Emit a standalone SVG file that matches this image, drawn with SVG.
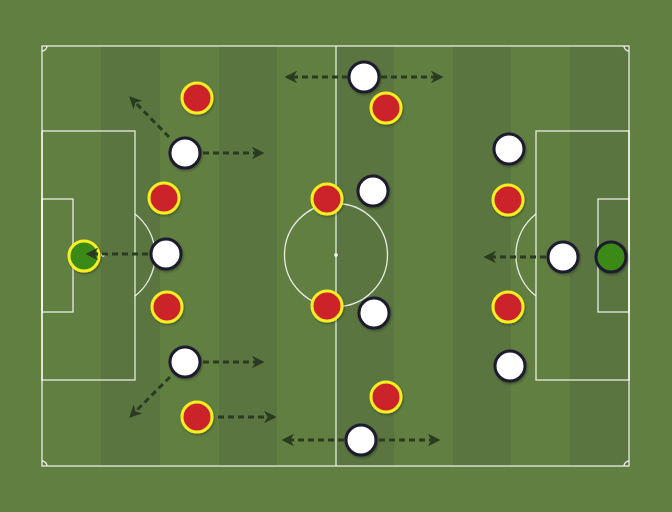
<svg xmlns="http://www.w3.org/2000/svg" width="672" height="512" viewBox="0 0 672 512">
<style>
.ln{fill:none;stroke:#ffffff;stroke-opacity:0.85;stroke-width:1.3}
.st{fill:#5a7540}
.mv{fill:none;stroke:#2a3b1f;stroke-width:3;stroke-dasharray:6 4;marker-end:url(#ah)}
.red{fill:#cc2229;stroke:#f5ef24;stroke-width:3}
.wht{fill:#ffffff;stroke:#1c1c2e;stroke-width:3}
.gkA{fill:#3b8914;stroke:#f5ef24;stroke-width:3}
.gkB{fill:#3b8914;stroke:#1c1c2e;stroke-width:3}
.pl{filter:url(#sh)}
</style>
<defs>
<marker id="ah" viewBox="0 0 10 10" refX="8" refY="5" markerWidth="4.2" markerHeight="4.2" orient="auto" markerUnits="strokeWidth">
<path d="M0,0 L10,5 L0,10 L3,5 z" fill="#2a3b1f"/>
</marker>
<filter id="sh" x="-30%" y="-30%" width="160%" height="160%">
<feDropShadow dx="1" dy="1.5" stdDeviation="1.2" flood-color="#000" flood-opacity="0.3"/>
</filter>
</defs>
<rect x="0" y="0" width="672" height="512" fill="#627f42"/>
<g id="pitch">
<rect class="st" x="101" y="46" width="59" height="420"/>
<rect class="st" x="219" y="46" width="58" height="420"/>
<rect class="st" x="336" y="46" width="58" height="420"/>
<rect class="st" x="453" y="46" width="58" height="420"/>
<rect class="st" x="570" y="46" width="59" height="420"/>
<rect class="ln" x="42" y="46" width="587" height="420" stroke-width="1.8"/>
<line class="ln" x1="336" y1="46" x2="336" y2="466"/>
<circle class="ln" cx="336" cy="255" r="51.5"/>
<circle cx="336" cy="255" r="1.8" fill="#fff"/>
<rect class="ln" x="42" y="131" width="93" height="249"/>
<rect class="ln" x="42" y="199" width="31" height="113"/>
<circle cx="103" cy="255" r="1.8" fill="#fff"/>
<path class="ln" d="M135,213.9 A52,52 0 0 1 135,296.1"/>
<rect class="ln" x="536" y="131" width="93" height="249"/>
<rect class="ln" x="598" y="199" width="31" height="113"/>
<circle cx="568" cy="255" r="1.8" fill="#fff"/>
<path class="ln" d="M536,213.9 A52,52 0 0 0 536,296.1"/>
<path class="ln" d="M42,51 A5,5 0 0 0 47,46"/>
<path class="ln" d="M624,46 A5,5 0 0 0 629,51"/>
<path class="ln" d="M42,461 A5,5 0 0 1 47,466"/>
<path class="ln" d="M624,466 A5,5 0 0 1 629,461"/>
</g>
<g id="red-1" class="pl"><circle class="red" cx="197" cy="98" r="15"/></g>
<g id="red-2" class="pl"><circle class="red" cx="386" cy="108" r="15"/></g>
<g id="red-3" class="pl"><circle class="red" cx="164" cy="198" r="15"/></g>
<g id="red-4" class="pl"><circle class="red" cx="327" cy="199" r="15"/></g>
<g id="red-5" class="pl"><circle class="red" cx="508" cy="200" r="15"/></g>
<g id="red-6" class="pl"><circle class="red" cx="167" cy="307" r="15"/></g>
<g id="red-7" class="pl"><circle class="red" cx="327" cy="306" r="15"/></g>
<g id="red-8" class="pl"><circle class="red" cx="508" cy="307" r="15"/></g>
<g id="red-9" class="pl"><circle class="red" cx="386" cy="397" r="15"/></g>
<g id="red-10" class="pl"><circle class="red" cx="197" cy="417" r="15"/></g>
<g id="red-gk" class="pl"><circle class="gkA" cx="84" cy="256" r="15"/></g>
<g id="white-1" class="pl"><circle class="wht" cx="364" cy="77" r="15"/></g>
<g id="white-2" class="pl"><circle class="wht" cx="185" cy="153" r="15"/></g>
<g id="white-3" class="pl"><circle class="wht" cx="509" cy="149" r="15"/></g>
<g id="white-4" class="pl"><circle class="wht" cx="373" cy="191" r="15"/></g>
<g id="white-5" class="pl"><circle class="wht" cx="166" cy="254" r="15"/></g>
<g id="white-6" class="pl"><circle class="wht" cx="563" cy="257" r="15"/></g>
<g id="white-7" class="pl"><circle class="wht" cx="374" cy="313" r="15"/></g>
<g id="white-8" class="pl"><circle class="wht" cx="185" cy="362" r="15"/></g>
<g id="white-9" class="pl"><circle class="wht" cx="510" cy="366" r="15"/></g>
<g id="white-10" class="pl"><circle class="wht" cx="361" cy="440" r="15"/></g>
<g id="white-gk" class="pl"><circle class="gkB" cx="611" cy="257" r="15"/></g>
<g id="connectors">
<line class="mv" x1="348" y1="77" x2="287" y2="77"/>
<line class="mv" x1="381" y1="77" x2="441" y2="77"/>
<line class="mv" x1="169" y1="137" x2="131" y2="98"/>
<line class="mv" x1="203" y1="153" x2="262" y2="153"/>
<line class="mv" x1="148" y1="254" x2="88" y2="254"/>
<line class="mv" x1="546" y1="257" x2="486" y2="257"/>
<line class="mv" x1="203" y1="362" x2="262" y2="362"/>
<line class="mv" x1="170" y1="377" x2="131" y2="416"/>
<line class="mv" x1="218" y1="417" x2="274" y2="417"/>
<line class="mv" x1="344" y1="440" x2="284" y2="440"/>
<line class="mv" x1="379" y1="440" x2="438" y2="440"/>
</g>
</svg>
